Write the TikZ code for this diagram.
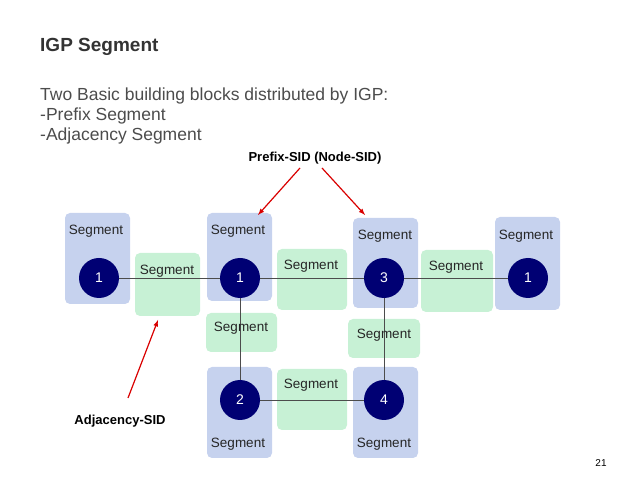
\documentclass[tikz,border=0pt]{standalone}
\usepackage{fontspec}
\setmainfont{Liberation Sans}
\begin{document}
\begin{tikzpicture}[x=1pt,y=-1pt,
  blue box/.style={fill=cyan!45!blue!22, draw=none, rounded corners=5pt},
  green box/.style={fill=green!50!teal!22, draw=none, rounded corners=5pt},
  router/.style={circle, fill=blue!45!black, text=white, minimum size=40pt, inner sep=0pt, font=\fontsize{14}{14}\selectfont},
  seg/.style={font=\fontsize{13.5}{14}\selectfont, text=black!85, inner sep=0pt},
  link/.style={draw=black!70, line width=0.7pt},
  callout/.style={draw=red!85!black, line width=1.2pt, -latex}
]
\useasboundingbox (0,0) rectangle (638,478);
% blue node segments
\fill[blue box] (65,213) rectangle (130,304);
\fill[blue box] (207,213) rectangle (272,301);
\fill[blue box] (353,218) rectangle (418,308);
\fill[blue box] (495,217) rectangle (560,310);
\fill[blue box] (207,367) rectangle (272,458);
\fill[blue box] (353,367) rectangle (418,458);
% green adjacency segments
\fill[green box] (135,253) rectangle (200,316);
\fill[green box] (277,249) rectangle (347,310);
\fill[green box] (421,250) rectangle (493,312);
\fill[green box] (206,313) rectangle (277,352);
\fill[green box] (348,319) rectangle (420,358);
\fill[green box] (277,369) rectangle (347,430);
% routers
\node[router] (a) at (99,278) {1};
\node[router] (b) at (240,278) {1};
\node[router] (c) at (384,278) {3};
\node[router] (d) at (528,278) {1};
\node[router] (e) at (240,400) {2};
\node[router] (f) at (384,400) {4};
\begin{scope}[on background layer/.style={}]
\end{scope}
\draw[link] (a) -- (b);
\draw[link] (b) -- (c);
\draw[link] (c) -- (d);
\draw[link] (b) -- (e);
\draw[link] (c) -- (f);
\draw[link] (e) -- (f);
% labels
\node[seg] (s1) at (96,231) {Segment};
\node[seg] (s2) at (238,231) {Segment};
\node[seg] (s3) at (385,236) {Segment};
\node[seg] (s4) at (526,236) {Segment};
\node[seg] (s5) at (167,271) {Segment};
\node[seg] (s6) at (311,266) {Segment};
\node[seg] (s7) at (456,267) {Segment};
\node[seg] (s8) at (241,328) {Segment};
\node[seg] (s9) at (384,335) {Segment};
\node[seg] (s10) at (311,385) {Segment};
\node[seg] (s11) at (238,444) {Segment};
\node[seg] (s12) at (384,444) {Segment};
% text
\node[anchor=west, font=\bfseries\fontsize{19}{20}\selectfont, text=black!80, inner sep=0pt] (title) at (40,47) {IGP Segment};
\node[anchor=north west, align=left, font=\fontsize{17.5}{20}\selectfont, text=black!70, inner sep=0pt] (body) at (40,88)
  {Two Basic building blocks distributed by IGP:\\-Prefix Segment\\-Adjacency Segment};
\node[font=\bfseries\fontsize{13}{14}\selectfont, inner sep=0pt] (pfx) at (315,158) {Prefix-SID (Node-SID)};
\node[font=\bfseries\fontsize{13}{14}\selectfont, inner sep=0pt] (adj) at (120,421) {Adjacency-SID};
\node[font=\fontsize{10}{10}\selectfont, inner sep=0pt] (pg) at (601,463) {21};
\coordinate (pfxl) at (300,168);
\coordinate (pfxr) at (322,168);
\coordinate (adjt) at (128,398);
\draw[callout] (pfxl) -- (258,215);
\draw[callout] (pfxr) -- (365,215);
\draw[callout] (adjt) -- (158,320);
\end{tikzpicture}
\end{document}
